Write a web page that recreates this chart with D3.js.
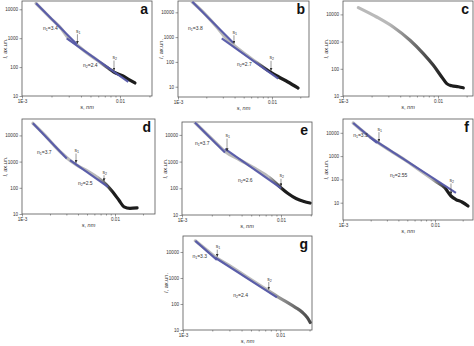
<!DOCTYPE html>
<html>
<head>
<meta charset="utf-8">
<script src="https://cdn.jsdelivr.net/npm/d3@7"></script>
<style>
  body { margin: 0; background: #fff; }
  svg { display: block; font-family: Arial, "Liberation Sans", sans-serif; }
</style>
</head>
<body>
<svg id="chart" width="474" height="346"></svg>
<script>
// SAXS curves: [s, I] pairs for each sample
const curveA = [[0.00139,16100],[0.00193,5200],[0.00256,2000],[0.00294,1058],[0.00348,667],[0.00440,347],[0.00582,175],[0.00755,93],[0.00859,68.7],[0.01074,49.2],[0.01236,37.2],[0.01422,28.2]];
const curveB = [[0.00141,26700],[0.00194,8540],[0.00267,2220],[0.00316,1010],[0.00385,503],[0.00516,208],[0.00710,86.2],[0.00906,45.0],[0.01159,25.8],[0.01479,15.5],[0.01893,8.87]];
const curveC = [[0.00145,17800],[0.00226,8020],[0.00338,3440],[0.00507,1117],[0.00700,362],[0.00893,134],[0.01094,50],[0.01236,28.6],[0.01393,23.7],[0.01638,21.8],[0.01845,20]];
const curveD = [[0.00131,29000],[0.00177,10100],[0.00226,3840],[0.00283,1740],[0.00337,1026],[0.00400,692],[0.00513,426],[0.00656,241],[0.00800,136],[0.00951,67.3],[0.01104,33.3],[0.01250,18.8],[0.01449,16.5],[0.01727,17.2]];
const curveE = [[0.00135,29100],[0.00171,12300],[0.00215,5420],[0.00272,2390],[0.00385,1148],[0.00546,552],[0.00774,243],[0.00977,112],[0.01178,63.8],[0.01419,41.5],[0.01706,32],[0.01965,28.1]];
const curveF = [[0.00129,26300],[0.00173,9800],[0.00234,4030],[0.00324,1740],[0.00472,680],[0.00687,241],[0.0100,85.3],[0.01285,42.8],[0.01493,19.4],[0.01690,13.7],[0.01963,10.7],[0.02287,7.2]];
const curveG = [[0.00134,26800],[0.00169,13400],[0.00215,6430],[0.00292,3220],[0.00388,1610],[0.00553,678],[0.00754,324],[0.00953,185],[0.01180,115],[0.01426,74.5],[0.01683,48.3],[0.01898,30],[0.02032,19.5]];

// power-law fits: [s from, s to, I at s from]; exponents in slopes*
const fitsA = [[0.00139,0.00361,16100],[0.00286,0.01216,993]];
const fitsB = [[0.00142,0.00387,26700],[0.00292,0.01166,895]];
const fitsD = [[0.00131,0.00303,29000],[0.00328,0.00841,1136]];
const fitsE = [[0.00135,0.00272,29100],[0.00272,0.0100,2970]];
const fitsF = [[0.00129,0.00234,26300],[0.00197,0.0169,6320]];
const fitsG = [[0.00134,0.00223,26800],[0.00215,0.00924,6000]];

const slopesA = [3.4, 2.4];
const slopesB = [3.8, 2.7];
const slopesD = [3.7, 2.5];
const slopesE = [3.7, 2.6];
const slopesF = [3.3, 2.55];
const slopesG = [3.3, 2.4];

// crossover points s1, s2
const breaksA = [0.00368, 0.00869];
const breaksB = [0.00394, 0.00977];
const breaksD = [0.00381, 0.00762];
const breaksE = [0.00285, 0.0100];
const breaksF = [0.00246, 0.01493];
const breaksG = [0.00225, 0.00762];

const yTicks = [10, 100, 1000, 10000];
const xTicks = [0.001, 0.01];
const xTickLabels = ["1E-3", "0.01"];
const xMinor = [0.002,0.003,0.004,0.005,0.006,0.007,0.008,0.009,0.02];

const panels = [
  {tag:"a", curve:curveA, fits:fitsA, slopes:slopesA, breaks:breaksA,
   box:[22,1,152,96], xMax:0.02123, yDom:[10,19360], shade:[0.006,0.0085],
   nAt:[[0.00164,1920],[0.00419,101]], lift:[14.5,15]},
  {tag:"b", curve:curveB, fits:fitsB, slopes:slopesB, breaks:breaksB,
   box:[178,1,309,97], xMax:0.02478, yDom:[3.85,28600], shade:[0.0065,0.009],
   nAt:[[0.00128,2020],[0.00425,68.4]], lift:[13.5,15]},
  {tag:"c", curve:curveC, fits:[], slopes:[], breaks:[],
   box:[343,1,473,96], xMax:0.02334, yDom:[10,31100], shade:[0.003,0.0115],
   nAt:[], lift:[]},
  {tag:"d", curve:curveD, fits:fitsD, slopes:slopesD, breaks:breaksD,
   box:[22,119,155,214], xMax:0.02692, yDom:[10,42300], shade:[0.0065,0.0095],
   nAt:[[0.00145,1900],[0.00400,124]], lift:[14.5,11]},
  {tag:"e", curve:curveE, fits:fitsE, slopes:slopesE, breaks:breaksE,
   box:[182,122,312,215], xMax:0.02057, yDom:[10,30400], shade:[0.0075,0.0105],
   nAt:[[0.00135,4190],[0.00368,172]], lift:[17.5,12.5]},
  {tag:"f", curve:curveF, fits:fitsF, slopes:slopesF, breaks:breaksF,
   box:[343,119,473,220], xMax:0.02590, yDom:[1.81,39100], shade:[0.009,0.0135],
   nAt:[[0.00129,6610],[0.00324,127]], lift:[14.7,16]},
  {tag:"g", curve:curveG, fits:fitsG, slopes:slopesG, breaks:breaksG,
   box:[183,236,312,330], xMax:0.02120, yDom:[10,41200], shade:[0.007,0.03],
   nAt:[[0.00125,5900],[0.00329,193]], lift:[12,12.5]}
];

const svg = d3.select("#chart");
const defs = svg.append("defs");

defs.append("marker")
  .attr("id", "arrow")
  .attr("markerUnits", "userSpaceOnUse")
  .attr("markerWidth", 3).attr("markerHeight", 3)
  .attr("refX", 3).attr("refY", 1.5)
  .attr("orient", "auto")
  .append("path").attr("d", "M0,0L3,1.5L0,3Z").attr("fill", "#333");

// I(s) on the measured curve, interpolated in log-log
function curveAt(curve, s) {
  let i = d3.bisector(d => d[0]).left(curve, s);
  i = Math.max(1, Math.min(curve.length - 1, i));
  const a = curve[i - 1], b = curve[i];
  const t = (Math.log(s) - Math.log(a[0])) / (Math.log(b[0]) - Math.log(a[0]));
  return Math.exp(Math.log(a[1]) + t * (Math.log(b[1]) - Math.log(a[1])));
}

function subText(sel, main, sub, rest) {
  sel.append("tspan").text(main);
  sel.append("tspan").attr("font-size", 3.6).attr("dy", 1).text(sub);
  if (rest) sel.append("tspan").attr("dy", -1).text(rest);
}

panels.forEach(p => {
  const [x0, y0, x1, y1] = p.box;
  const x = d3.scaleLog().domain([1e-3, p.xMax]).range([x0, x1]);
  const y = d3.scaleLog().domain(p.yDom).range([y1, y0]);
  const g = svg.append("g");

  defs.append("clipPath").attr("id", "clip-" + p.tag)
    .append("rect").attr("x", x0).attr("y", y0).attr("width", x1 - x0).attr("height", y1 - y0);

  const grad = defs.append("linearGradient")
    .attr("id", "shade-" + p.tag)
    .attr("gradientUnits", "userSpaceOnUse")
    .attr("x1", x(p.shade[0])).attr("x2", x(p.shade[1]))
    .attr("y1", 0).attr("y2", 0);
  grad.append("stop").attr("offset", 0).attr("stop-color", "#b9b9b9");
  grad.append("stop").attr("offset", 1).attr("stop-color", "#1c1c1c");

  // frame
  g.append("rect")
    .attr("x", x0).attr("y", y0).attr("width", x1 - x0).attr("height", y1 - y0)
    .attr("fill", "none").attr("stroke", "#555").attr("stroke-width", 0.8);

  // axes
  const yAxis = g.append("g")
    .attr("transform", `translate(${x0},0)`)
    .call(d3.axisLeft(y).tickValues(yTicks.filter(v => v >= p.yDom[0] && v <= p.yDom[1]))
      .tickFormat(d3.format("d")).tickSizeInner(2.5).tickSizeOuter(0).tickPadding(1.5));
  const xAxis = g.append("g")
    .attr("transform", `translate(0,${y1})`)
    .call(d3.axisBottom(x).tickValues(xTicks)
      .tickFormat((d, i) => xTickLabels[i]).tickSizeInner(2.5).tickSizeOuter(0).tickPadding(1.2));
  const xAxisMinor = g.append("g")
    .attr("transform", `translate(0,${y1})`)
    .call(d3.axisBottom(x).tickValues(xMinor.filter(v => v <= p.xMax))
      .tickFormat("").tickSizeInner(1.5).tickSizeOuter(0));
  [yAxis, xAxis, xAxisMinor].forEach(a => {
    a.select(".domain").remove();
    a.selectAll("line").attr("stroke", "#555").attr("stroke-width", 0.6);
    a.selectAll("text").attr("font-size", 4.6).attr("fill", "#333").attr("font-family", null);
  });

  // axis titles
  const xt = g.append("text")
    .attr("x", (x0 + x1) / 2).attr("y", y1 + 12.5)
    .attr("text-anchor", "middle").attr("font-size", 5.6).attr("fill", "#333");
  xt.append("tspan").attr("font-style", "italic").text("s");
  xt.append("tspan").text(", ");
  xt.append("tspan").attr("font-style", "italic").text("nm");

  const yt = g.append("text")
    .attr("transform", `translate(${x0 - 15},${(y0 + y1) / 2}) rotate(-90)`)
    .attr("text-anchor", "middle").attr("font-size", 5.6).attr("fill", "#333");
  yt.append("tspan").attr("font-style", "italic").text("I");
  yt.append("tspan").text(", ax.un.");

  const plot = g.append("g").attr("clip-path", `url(#clip-${p.tag})`);

  // measured curve
  plot.append("path")
    .datum(p.curve)
    .attr("d", d3.line().x(d => x(d[0])).y(d => y(d[1])).curve(d3.curveMonotoneX))
    .attr("fill", "none")
    .attr("stroke", `url(#shade-${p.tag})`)
    .attr("stroke-width", 3.2)
    .attr("stroke-linecap", "round")
    .attr("stroke-linejoin", "round");

  // power-law fits I ~ s^-n
  p.fits.forEach((f, i) => {
    const n = p.slopes[i];
    const ends = [[f[0], f[2]], [f[1], f[2] * Math.pow(f[1] / f[0], -n)]];
    plot.append("path")
      .datum(ends)
      .attr("d", d3.line().x(d => x(d[0])).y(d => y(d[1])))
      .attr("fill", "none")
      .attr("stroke", "#5457a8")
      .attr("stroke-opacity", 0.95)
      .attr("stroke-width", 2.1);

    const lbl = g.append("text")
      .attr("x", x(p.nAt[i][0])).attr("y", y(p.nAt[i][1]))
      .attr("font-size", 5).attr("fill", "#333");
    subText(lbl, "n", String(i + 1), "=" + n);
  });

  // s1, s2 markers
  p.breaks.forEach((s, i) => {
    const xc = x(s);
    const yc = y(curveAt(p.curve, s));
    const top = yc - p.lift[i];
    g.append("line")
      .attr("x1", xc).attr("x2", xc)
      .attr("y1", top + 3.5).attr("y2", yc - 1.5)
      .attr("stroke", "#333").attr("stroke-width", 0.5)
      .attr("marker-end", "url(#arrow)");
    const lbl = g.append("text")
      .attr("x", xc - 1.5).attr("y", top + 2)
      .attr("font-size", 5).attr("fill", "#333");
    subText(lbl, "s", String(i + 1));
  });

  // panel letter
  g.append("text")
    .attr("x", x1 - 4).attr("y", y0 + 13)
    .attr("text-anchor", "end")
    .attr("font-size", 14).attr("font-weight", "bold").attr("fill", "#111")
    .text(p.tag);
});
</script>
</body>
</html>
